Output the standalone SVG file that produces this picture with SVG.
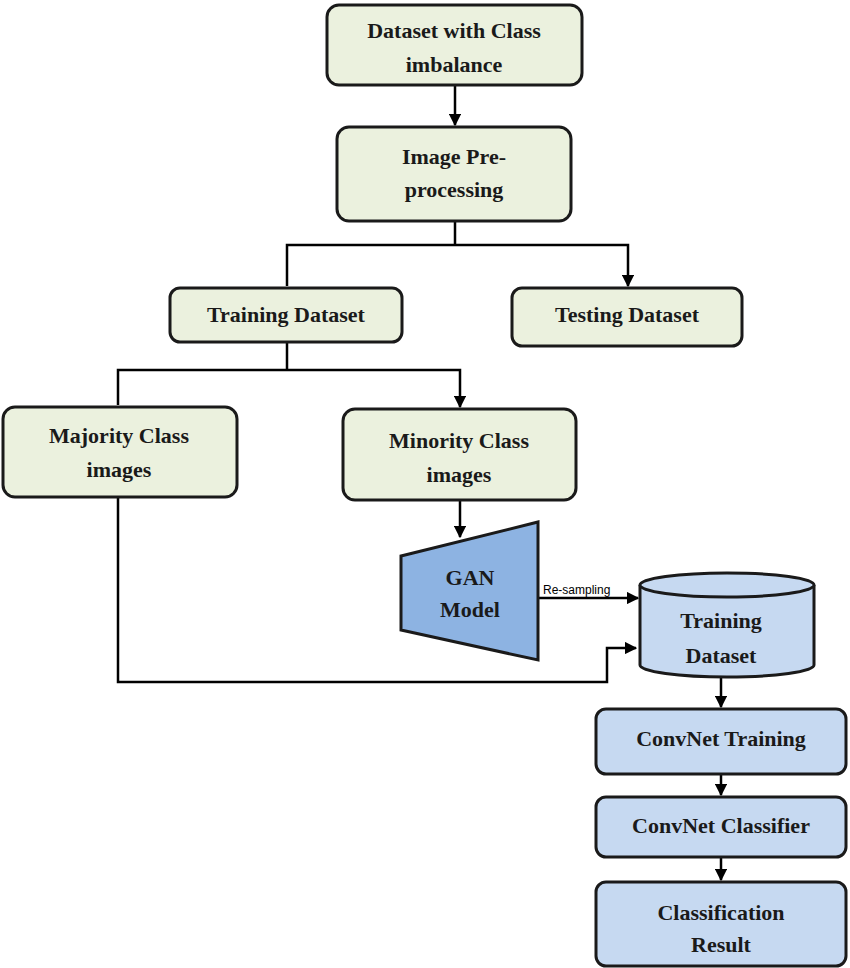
<svg xmlns="http://www.w3.org/2000/svg" width="850" height="968" viewBox="0 0 850 968">
<defs>
<style>
.g{fill:#ebf1de;stroke:#1a1a1a;stroke-width:3}
.b{fill:#c6d9f1;stroke:#1a1a1a;stroke-width:3}
.t{font-family:"Liberation Serif",serif;font-weight:bold;font-size:22px;fill:#1a1a1a;text-anchor:middle}
.c{fill:none;stroke:#000;stroke-width:2.5;marker-end:url(#a)}
</style>
<marker id="a" viewBox="0 0 10 10" refX="9" refY="5" markerWidth="5" markerHeight="5" orient="auto" markerUnits="strokeWidth"><path d="M0,0L10,5L0,10z" fill="#000"/></marker>
</defs>
<g id="connectors">
<path class="c" d="M455,86V125"/>
<path class="c" d="M455,222V245H287V286M455,245H628V286"/>
<path class="c" d="M287,343V370H118V405M287,370H460V407"/>
<path class="c" d="M460,501V537"/>
<path class="c" d="M538,598H638"/>
<path class="c" d="M118,498V682H607V648H636"/>
<path class="c" d="M721,678V707"/>
<path class="c" d="M721,775V795"/>
<path class="c" d="M721,858V880"/>
</g>
<text x="543" y="594" font-family="Liberation Sans,sans-serif" font-size="12" fill="#000">Re-sampling</text>
<g id="n1"><rect class="g" x="327" y="5" width="255" height="80" rx="12"/><text class="t" x="454" y="38">Dataset with Class</text><text class="t" x="454" y="72">imbalance</text></g>
<g id="n2"><rect class="g" x="337" y="127" width="234" height="94" rx="12"/><text class="t" x="454" y="164">Image Pre-</text><text class="t" x="454" y="197">processing</text></g>
<g id="n3"><rect class="g" x="170" y="288" width="232" height="54" rx="10"/><text class="t" x="286" y="322">Training Dataset</text></g>
<g id="n4"><rect class="g" x="512" y="288" width="230" height="58" rx="10"/><text class="t" x="627" y="322">Testing Dataset</text></g>
<g id="n5"><rect class="g" x="3" y="407" width="234" height="90" rx="12"/><text class="t" x="119" y="443">Majority Class</text><text class="t" x="119" y="477">images</text></g>
<g id="n6"><rect class="g" x="343" y="409" width="233" height="91" rx="12"/><text class="t" x="459" y="448">Minority Class</text><text class="t" x="459" y="482">images</text></g>
<g id="gan"><path d="M401,556L538,522V660L401,630Z" fill="#8db3e2" stroke="#1a1a1a" stroke-width="3"/><text class="t" x="470" y="585">GAN</text><text class="t" x="470" y="617">Model</text></g>
<g id="db"><path class="b" d="M640,585V665A87,12 0 0 0 814,665V585"/><ellipse class="b" cx="727" cy="585" rx="87" ry="12"/><text class="t" x="721" y="628">Training</text><text class="t" x="721" y="663">Dataset</text></g>
<g id="n7"><rect class="b" x="596" y="709" width="250" height="65" rx="10"/><text class="t" x="721" y="746">ConvNet Training</text></g>
<g id="n8"><rect class="b" x="596" y="797" width="250" height="60" rx="10"/><text class="t" x="721" y="833">ConvNet Classifier</text></g>
<g id="n9"><rect class="b" x="596" y="882" width="250" height="84" rx="10"/><text class="t" x="721" y="920">Classification</text><text class="t" x="721" y="952">Result</text></g>
</svg>
